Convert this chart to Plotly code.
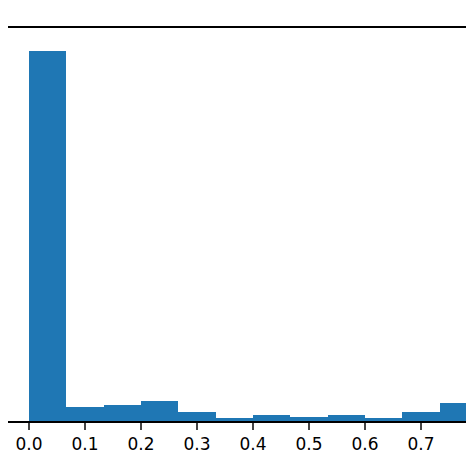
import plotly.graph_objects as go

# histogram bins (width 1/15) and bar heights (arbitrary units)
bin_left = [i / 15 for i in range(13)]
counts = [370, 13.7, 15.7, 19.7, 8.7, 2.7, 5.7, 3.7, 5.7, 2.7, 8.7, 17.7, 17]
w = 1 / 15

fig = go.Figure(go.Bar(
    x=[b + w / 2 for b in bin_left], y=counts, width=w,
    marker=dict(color="#1f77b4", line=dict(width=0)),
))
fig.update_layout(
    width=474, height=474, margin=dict(l=0, r=0, t=20, b=61, autoexpand=False),
    plot_bgcolor="white", paper_bgcolor="white", showlegend=False, bargap=0,
    font=dict(family="DejaVu Sans", size=17, color="black"),
)
fig.update_xaxes(range=[-0.0375, 0.8089], tickvals=[i / 10 for i in range(9)],
                 ticktext=[f"{i/10:.1f}" for i in range(9)], automargin=False,
                 showline=True, linecolor="black", linewidth=1.5, mirror=True,
                 ticks="outside", ticklen=7, tickwidth=1.5, showgrid=False, zeroline=False)
fig.update_yaxes(range=[0, 392.7], showticklabels=False, showgrid=False, zeroline=False,
                 showline=False, automargin=False)
fig.write_html("out.html")
